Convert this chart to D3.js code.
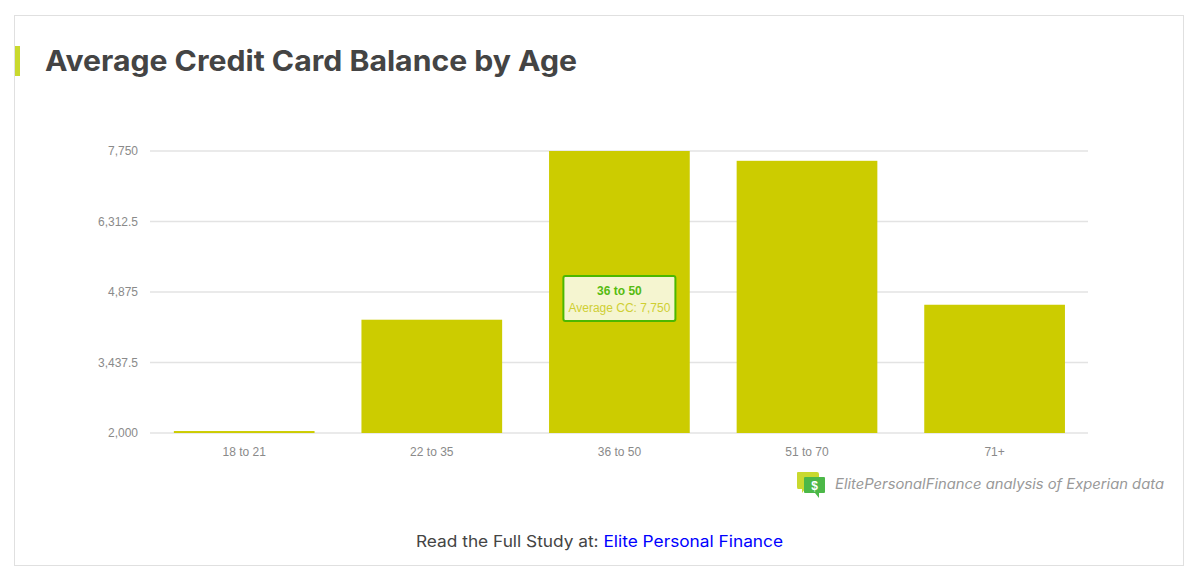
<!DOCTYPE html>
<html>
<head>
<meta charset="utf-8">
<script src="https://cdn.jsdelivr.net/npm/d3@7"></script>
<style>
  html, body { margin: 0; padding: 0; background: #fff; }
  svg { display: block; }
</style>
</head>
<body>
<div id="viz-container"></div>
<script>
const ageGroups = ["18 to 21", "22 to 35", "36 to 50", "51 to 70", "71+"];
const avgBalance = [2040, 4310, 7750, 7550, 4615];
const yTicks = [2000, 3437.5, 4875, 6312.5, 7750];
const hoveredGroup = "36 to 50";

const svg = d3.select("#viz-container")
    .append("svg")
    .attr("width", 1198)
    .attr("height", 580);

// card border
svg.append("rect")
    .attr("x", 14.5).attr("y", 15.5)
    .attr("width", 1169).attr("height", 550)
    .attr("fill", "#fff")
    .attr("stroke", "#e0e0e0");

// title with accent block
svg.append("rect")
    .attr("x", 15).attr("y", 46)
    .attr("width", 5).attr("height", 30)
    .attr("fill", "#c9d92e");

svg.append("text")
    .attr("x", 45).attr("y", 71)
    .attr("font-family", "Inter, sans-serif")
    .attr("font-weight", 700)
    .attr("font-size", "28px")
    .attr("fill", "#444")
    .attr("textLength", 532)
    .attr("lengthAdjust", "spacingAndGlyphs")
    .text("Average Credit Card Balance by Age");

// scales
const x = d3.scaleBand()
    .domain(ageGroups)
    .range([150.4, 1088.4])
    .paddingInner(0.25)
    .paddingOuter(0.125);

const y = d3.scaleLinear()
    .domain([2000, 7750])
    .range([433, 151]);

// gridlines
svg.append("g")
    .selectAll("line")
    .data(yTicks)
    .join("line")
    .attr("x1", 150)
    .attr("x2", 1088)
    .attr("y1", d => y(d))
    .attr("y2", d => y(d))
    .attr("stroke", "#e3e3e3")
    .attr("stroke-width", 1.5);

// bars
svg.append("g")
    .selectAll("rect")
    .data(ageGroups)
    .join("rect")
    .attr("x", d => x(d))
    .attr("y", (d, i) => y(avgBalance[i]))
    .attr("width", x.bandwidth())
    .attr("height", (d, i) => y(2000) - y(avgBalance[i]))
    .attr("fill", "#cccc00");

// axes
const yAxis = svg.append("g")
    .attr("transform", "translate(138,0)")
    .call(d3.axisLeft(y).tickValues(yTicks).tickSize(0).tickPadding(0).tickFormat(d3.format(",~f")));

const xAxis = svg.append("g")
    .attr("transform", "translate(0,433)")
    .call(d3.axisBottom(x).tickSize(0).tickPadding(14));

[yAxis, xAxis].forEach(axis => {
    axis.select(".domain").remove();
    axis.selectAll("text")
        .attr("font-family", "'Liberation Sans', Arial, sans-serif")
        .attr("font-size", "12px")
        .attr("fill", "#8a8a8a");
});

// tooltip on the hovered bar
const hoveredValue = avgBalance[ageGroups.indexOf(hoveredGroup)];
const tipX = x(hoveredGroup) + x.bandwidth() / 2;
const tip = svg.append("g");

tip.append("rect")
    .attr("x", tipX - 56).attr("y", 276)
    .attr("width", 112).attr("height", 45)
    .attr("rx", 2)
    .attr("fill", "#f5f5d0")
    .attr("stroke", "#4cb800")
    .attr("stroke-width", 2);

tip.append("text")
    .attr("x", tipX).attr("y", 295)
    .attr("text-anchor", "middle")
    .attr("font-family", "'Liberation Sans', Arial, sans-serif")
    .attr("font-size", "12px")
    .attr("font-weight", 700)
    .attr("fill", "#55bb11")
    .text(hoveredGroup);

tip.append("text")
    .attr("x", tipX).attr("y", 312)
    .attr("text-anchor", "middle")
    .attr("font-family", "'Liberation Sans', Arial, sans-serif")
    .attr("font-size", "12px")
    .attr("fill", "#cfcf33")
    .text("Average CC: " + d3.format(",")(hoveredValue));

// source logo
const logo = svg.append("g").attr("transform", "translate(797,472)");
logo.append("path")
    .attr("d", "M1,0 H20 Q22,0 22,2 V15 Q22,17 20,17 H8 L5,21 V17 H1 Q0,17 0,15 V1 Q0,0 1,0 Z")
    .attr("fill", "#c9d92e");
logo.append("path")
    .attr("d", "M8,5 H27 Q28,5 28,6 V20 Q28,21 27,21 H22 V26 L18,21 H8 Q7,21 7,20 V6 Q7,5 8,5 Z")
    .attr("fill", "#4cb848");
logo.append("text")
    .attr("x", 17.5).attr("y", 17.5)
    .attr("text-anchor", "middle")
    .attr("font-family", "'Liberation Sans', Arial, sans-serif")
    .attr("font-size", "12px")
    .attr("font-weight", 700)
    .attr("fill", "#fff")
    .text("$");

svg.append("text")
    .attr("x", 835).attr("y", 489)
    .attr("font-family", "Inter, sans-serif")
    .attr("font-style", "italic")
    .attr("font-size", "14px")
    .attr("fill", "#999")
    .attr("textLength", 329)
    .attr("lengthAdjust", "spacingAndGlyphs")
    .text("ElitePersonalFinance analysis of Experian data");

// footer link
const footer = svg.append("text")
    .attr("x", 416).attr("y", 547)
    .attr("font-family", "Inter, sans-serif")
    .attr("font-size", "16px")
    .attr("textLength", 367)
    .attr("lengthAdjust", "spacingAndGlyphs");

footer.append("tspan").attr("fill", "#444").text("Read the Full Study at: ");
footer.append("tspan").attr("fill", "#0000ff").text("Elite Personal Finance");
</script>
</body>
</html>
